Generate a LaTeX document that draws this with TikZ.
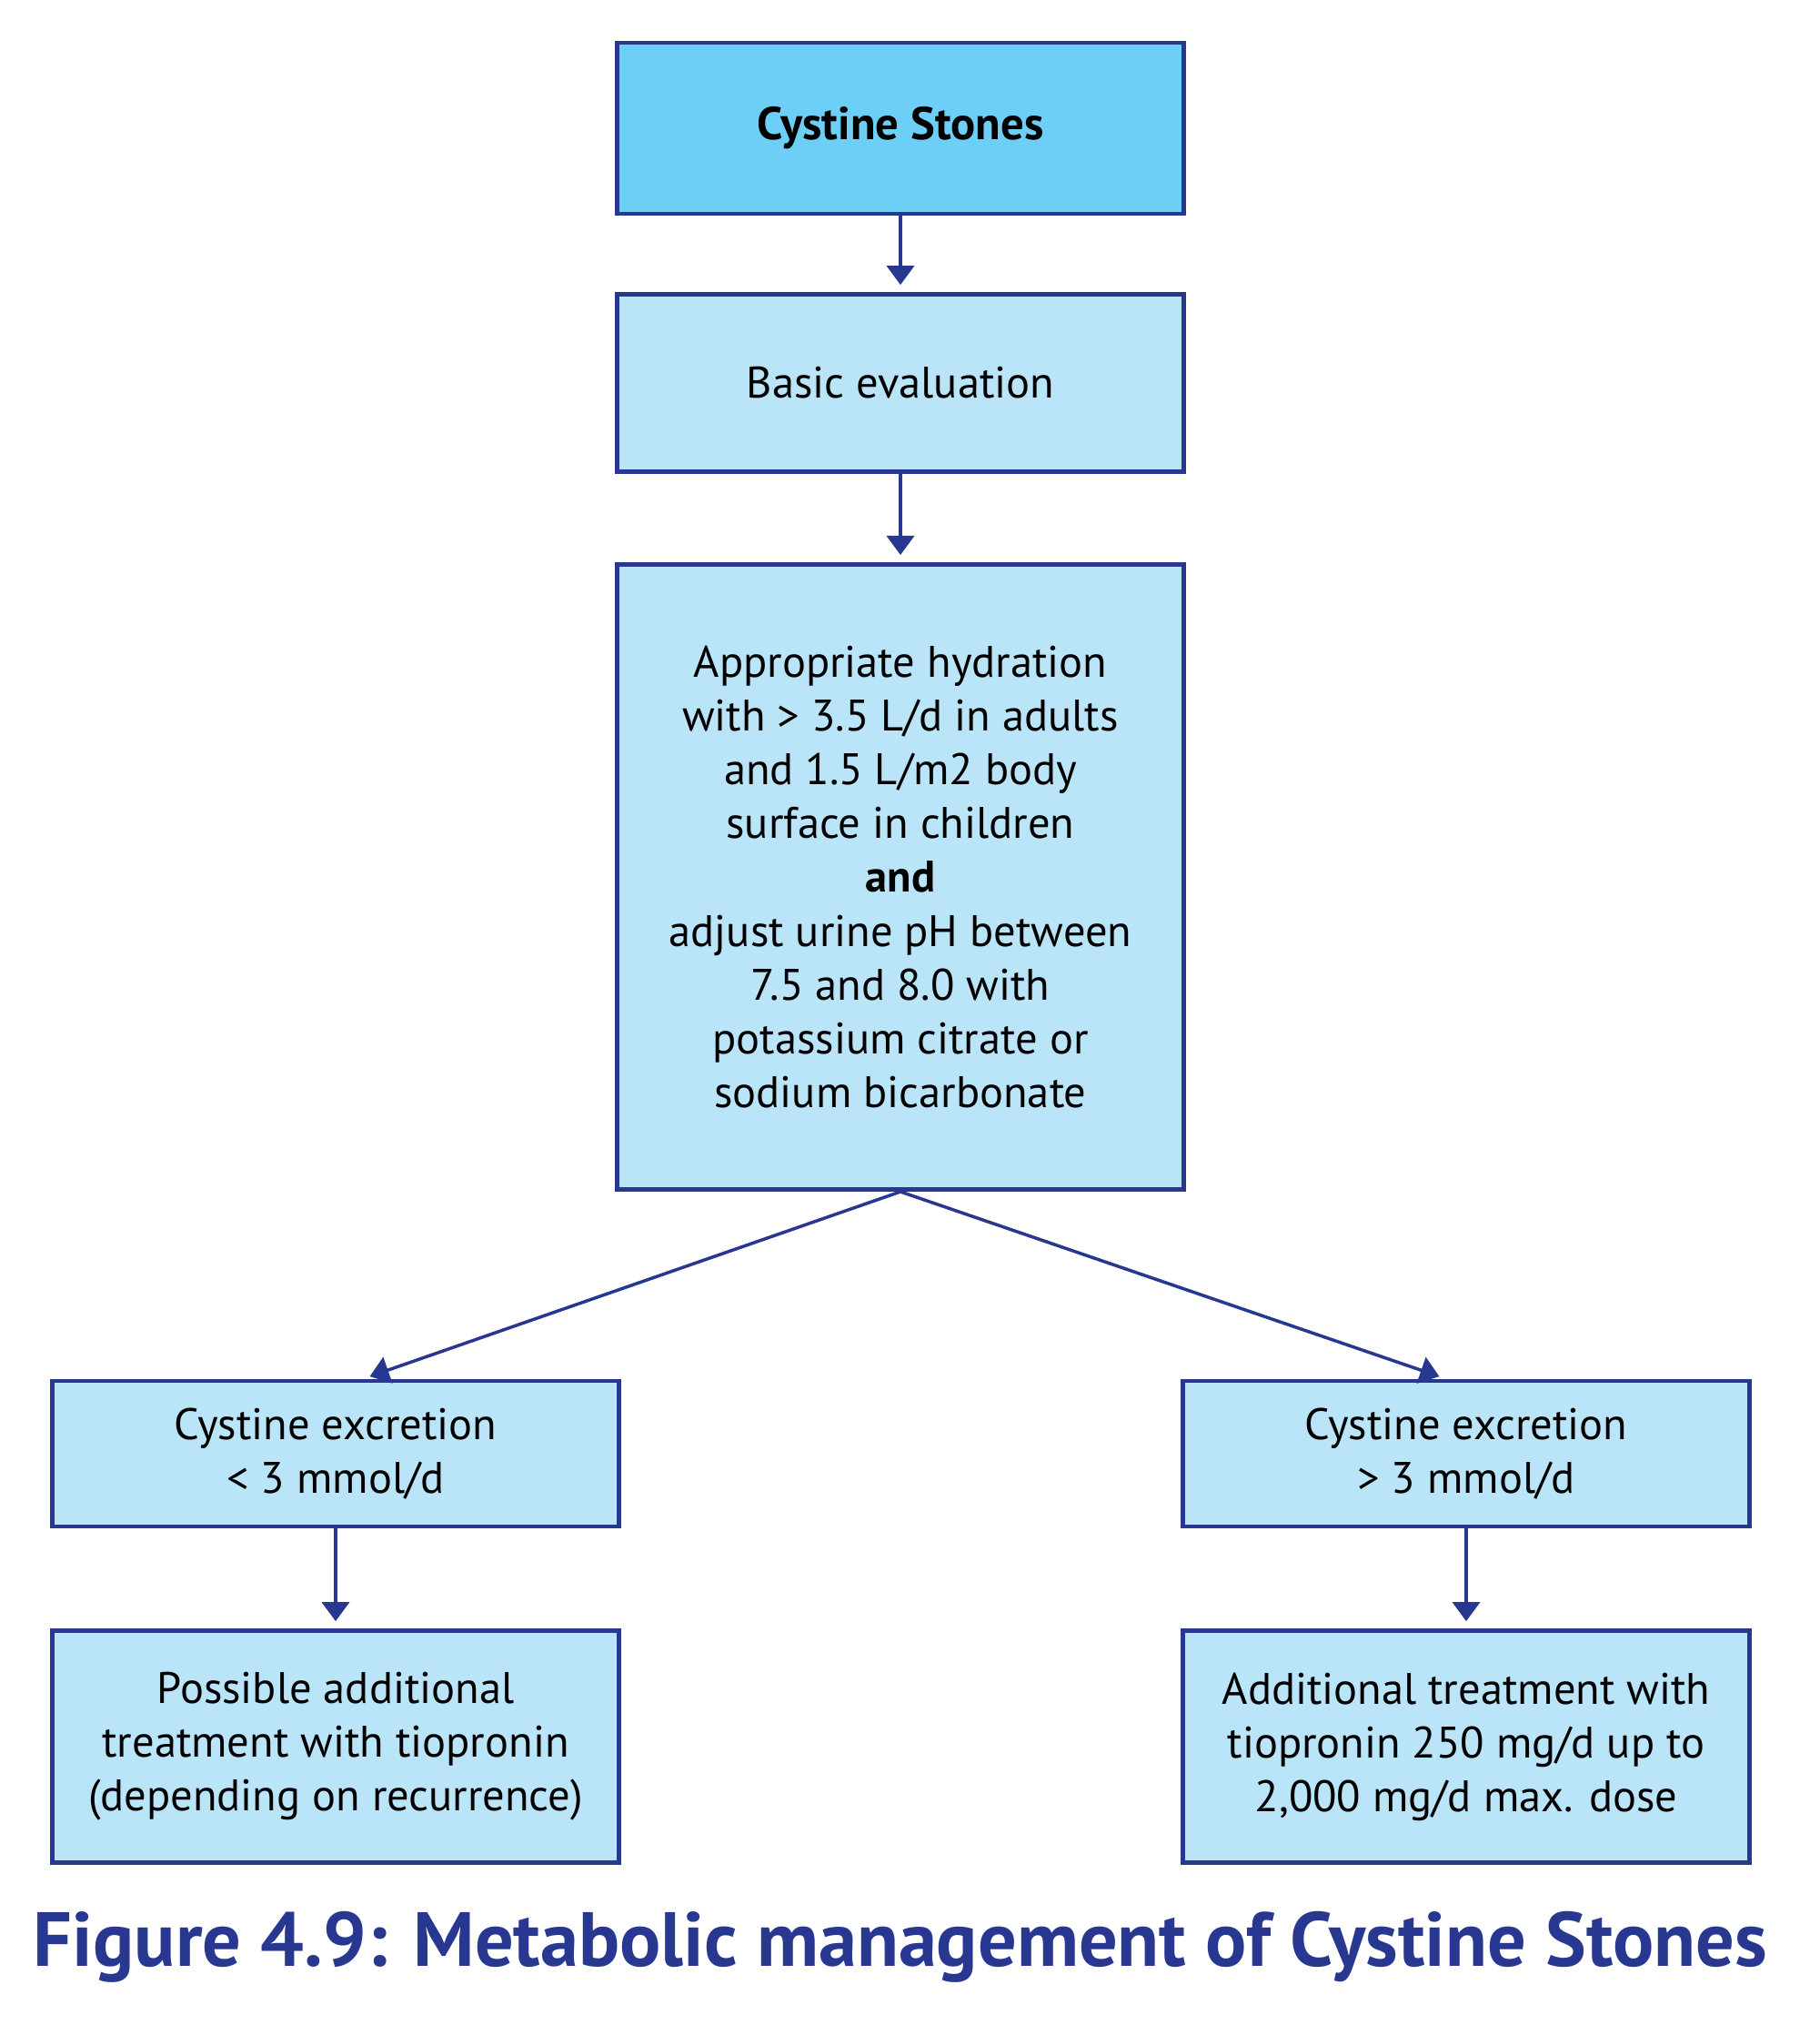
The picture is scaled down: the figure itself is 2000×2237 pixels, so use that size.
\documentclass[tikz,border=0pt]{standalone}
\usepackage{fontspec}
\setmainfont{PT Sans}
\usetikzlibrary{arrows.meta, positioning}

\definecolor{frameblue}{RGB}{40,56,145}
\definecolor{headfill}{RGB}{109,207,246}
\definecolor{boxfill}{RGB}{186,229,248}

\begin{document}
\begin{tikzpicture}[x=0.01cm, y=-0.01cm,
    box/.style={draw=frameblue, line width=1.3pt, fill=boxfill, align=center,
        inner sep=0pt, minimum width=6.23cm, font=\fontsize{13.8}{16.8}\selectfont},
    flow/.style={draw=frameblue, line width=1pt, shorten >=0.8mm,
        -{Triangle[width=3mm, length=2.1mm]}}]
    \useasboundingbox (0,0) rectangle (2000,2237);

    % Main column
    \node[box, fill=headfill, minimum height=1.88cm, font=\fontsize{14.4}{16.8}\selectfont\bfseries] (stones) at (990,141) {Cystine Stones};
    \node[box, minimum height=1.95cm] (basic) at (990,421) {Basic evaluation};
    \node[box, minimum height=6.87cm] (hydration) at (990,964) {Appropriate hydration\\with > 3.5 L/d in adults\\and 1.5 L/m2 body\\surface in children\\\textbf{and}\\adjust urine pH between\\7.5 and 8.0 with\\potassium citrate or\\sodium bicarbonate};

    % Branches
    \node[box, minimum height=1.6cm] (lowexc) at (369,1598) {Cystine excretion\\< 3 mmol/d};
    \node[box, minimum height=1.6cm] (highexc) at (1612,1598) {Cystine excretion\\> 3 mmol/d};
    \node[box, minimum height=2.55cm] (lowtreat) at (369,1920) {Possible additional\\treatment with tiopronin\\(depending on recurrence)};
    \node[box, minimum height=2.55cm] (hightreat) at (1612,1920) {Additional treatment with\\tiopronin 250 mg/d up to\\2,000 mg/d max. dose};

    % Arrows
    \draw[flow] (stones) -- (basic);
    \draw[flow] (basic) -- (hydration);
    \draw[flow] (hydration.south) -- ([xshift=0.3cm]lowexc.north);
    \draw[flow] (hydration.south) -- ([xshift=-0.22cm]highexc.north);
    \draw[flow] (lowexc) -- (lowtreat);
    \draw[flow] (highexc) -- (hightreat);

    % Caption
    \node[text=frameblue, font=\fontsize{24}{29}\selectfont\bfseries] (caption) at (990,2140) {Figure 4.9: Metabolic management of Cystine Stones};
\end{tikzpicture}
\end{document}
